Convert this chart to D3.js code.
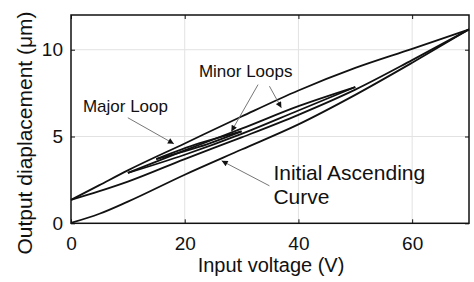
<!DOCTYPE html>
<html>
<head>
<meta charset="utf-8">
<script src="https://d3js.org/d3.v7.min.js"></script>
<style>
    body { margin: 0; background: #fff; }
    svg text { font-family: "Liberation Sans", Arial, sans-serif; fill: #111; }
    .tick text { font-size: 19px; }
    .grid line { stroke: #e2e2e2; stroke-width: 1; }
    .curve { fill: none; stroke: #111; stroke-width: 1.8; }
    .note-line { stroke: #777; stroke-width: 1; }
</style>
</head>
<body>
<svg width="474" height="282"></svg>
<script>
    // tick values
    var xTicks = [0, 20, 40, 60];
    var yTicks = [0, 5, 10];

    // major loop (0..70 V) and initial ascending curve
    var majorVolts = [0, 5, 10, 20, 30, 40, 50, 60, 70];
    var initialCurve = [0.02, 0.55, 1.25, 2.8, 4.25, 5.7, 7.4, 9.25, 11.17];
    var majorAscending = [1.35, 1.85, 2.4, 3.7, 4.95, 6.25, 7.7, 9.4, 11.17];
    var majorDescending = [1.35, 2.2, 3.05, 4.6, 6.15, 7.65, 8.95, 10.05, 11.17];

    // large minor loop (10..50 V)
    var minorVolts = [10, 20, 30, 40, 50];
    var minorUpper = [2.9, 4.2, 5.45, 6.75, 7.85];
    var minorLower = [2.9, 3.95, 5.15, 6.5, 7.85];

    // small minor loop (15..30 V)
    var smallVolts = [15, 22.5, 30];
    var smallUpper = [3.7, 4.6, 5.3];
    var smallLower = [3.7, 4.4, 5.3];

    // annotations: text position and arrow [from, to] in data units
    var notes = [
        {lines: ["Major Loop"], v: 2.1, d: 6.4, size: 17},
        {lines: ["Minor Loops"], v: 22.5, d: 8.4, size: 17},
        {lines: ["Initial Ascending", "Curve"], v: 35.6, d: 2.5, size: 21}
    ];
    var arrows = [
        [[10, 6.08], [18.1, 4.58]],
        [[32.9, 7.99], [28.2, 5.29]],
        [[34.9, 7.9], [37, 6.65]],
        [[34.9, 2.16], [26.5, 3.6]]
    ];

    var svg = d3.select("svg"),
        margin = {top: 15, right: 5, bottom: 59, left: 71},
        width = +svg.attr("width"),
        height = +svg.attr("height");

    var x = d3.scaleLinear().domain([0, 70]).range([margin.left, width - margin.right]);
    var y = d3.scaleLinear().domain([0, 12]).range([height - margin.bottom + 0.3, margin.top]);

    // grid
    var grid = svg.append("g").attr("class", "grid");
    grid.selectAll(".gx").data(xTicks.slice(1)).enter().append("line")
        .attr("x1", d => x(d)).attr("x2", d => x(d))
        .attr("y1", y(0)).attr("y2", y(12));
    grid.selectAll(".gy").data(yTicks.slice(1)).enter().append("line")
        .attr("x1", x(0)).attr("x2", x(70))
        .attr("y1", d => y(d)).attr("y2", d => y(d));

    // curves
    var line = d3.line().x(d => x(d[0])).y(d => y(d[1])).curve(d3.curveMonotoneX);
    function pairs(vs, ds) { return vs.map((v, i) => [v, ds[i]]); }
    [
        pairs(majorVolts, initialCurve),
        pairs(majorVolts, majorAscending),
        pairs(majorVolts, majorDescending),
        pairs(minorVolts, minorUpper),
        pairs(minorVolts, minorLower),
        pairs(smallVolts, smallUpper),
        pairs(smallVolts, smallLower)
    ].forEach(function (pts) {
        svg.append("path").attr("class", "curve").attr("d", line(pts));
    });

    // axes, ticks pointing inward
    function strip(g) { g.select(".domain").remove(); g.selectAll(".tick line").attr("stroke", "#111"); }
    svg.append("g").attr("transform", "translate(0," + y(0) + ")")
        .call(d3.axisBottom(x).tickValues(xTicks).tickSize(-4).tickPadding(13).tickFormat(d3.format("d")))
        .call(strip);
    svg.append("g").attr("transform", "translate(0," + y(12) + ")")
        .call(d3.axisTop(x).tickValues(xTicks).tickSize(-4).tickFormat(""))
        .call(strip);
    svg.append("g").attr("transform", "translate(" + x(0) + ",0)")
        .call(d3.axisLeft(y).tickValues(yTicks).tickSize(-4).tickPadding(8).tickFormat(d3.format("d")))
        .call(strip);
    svg.append("g").attr("transform", "translate(" + x(70) + ",0)")
        .call(d3.axisRight(y).tickValues(yTicks).tickSize(-4).tickFormat(""))
        .call(strip);
    svg.selectAll(".tick text").attr("font-family", null).attr("font-size", null);

    // frame
    svg.append("rect")
        .attr("x", x(0)).attr("y", y(12))
        .attr("width", x(70) - x(0)).attr("height", y(0) - y(12))
        .attr("fill", "none").attr("stroke", "#111").attr("stroke-width", 1.5);

    // axis labels
    svg.append("text")
        .attr("x", (x(0) + x(70)) / 2 + 1).attr("y", 272)
        .attr("text-anchor", "middle").attr("font-size", 20)
        .text("Input voltage (V)");
    svg.append("text")
        .attr("transform", "translate(32," + 133 + ")rotate(-90)")
        .attr("text-anchor", "middle").attr("font-size", 21)
        .text("Output diaplacement (\u03bcm)");

    // annotation arrows
    svg.append("defs").append("marker")
        .attr("id", "head").attr("viewBox", "0 0 10 10")
        .attr("refX", 10).attr("refY", 5)
        .attr("markerWidth", 9).attr("markerHeight", 6)
        .attr("markerUnits", "userSpaceOnUse")
        .attr("orient", "auto")
        .append("path").attr("d", "M0,0L10,5L0,10z").attr("fill", "#111");
    svg.selectAll(".note-line").data(arrows).enter().append("line")
        .attr("class", "note-line")
        .attr("x1", d => x(d[0][0])).attr("y1", d => y(d[0][1]))
        .attr("x2", d => x(d[1][0])).attr("y2", d => y(d[1][1]))
        .attr("marker-end", "url(#head)");

    notes.forEach(function (n) {
        var t = svg.append("text")
            .attr("x", x(n.v)).attr("y", y(n.d))
            .attr("font-size", n.size);
        n.lines.forEach(function (s, i) {
            t.append("tspan").attr("x", x(n.v)).attr("dy", i ? "1.15em" : 0).text(s);
        });
    });
</script>
</body>
</html>
